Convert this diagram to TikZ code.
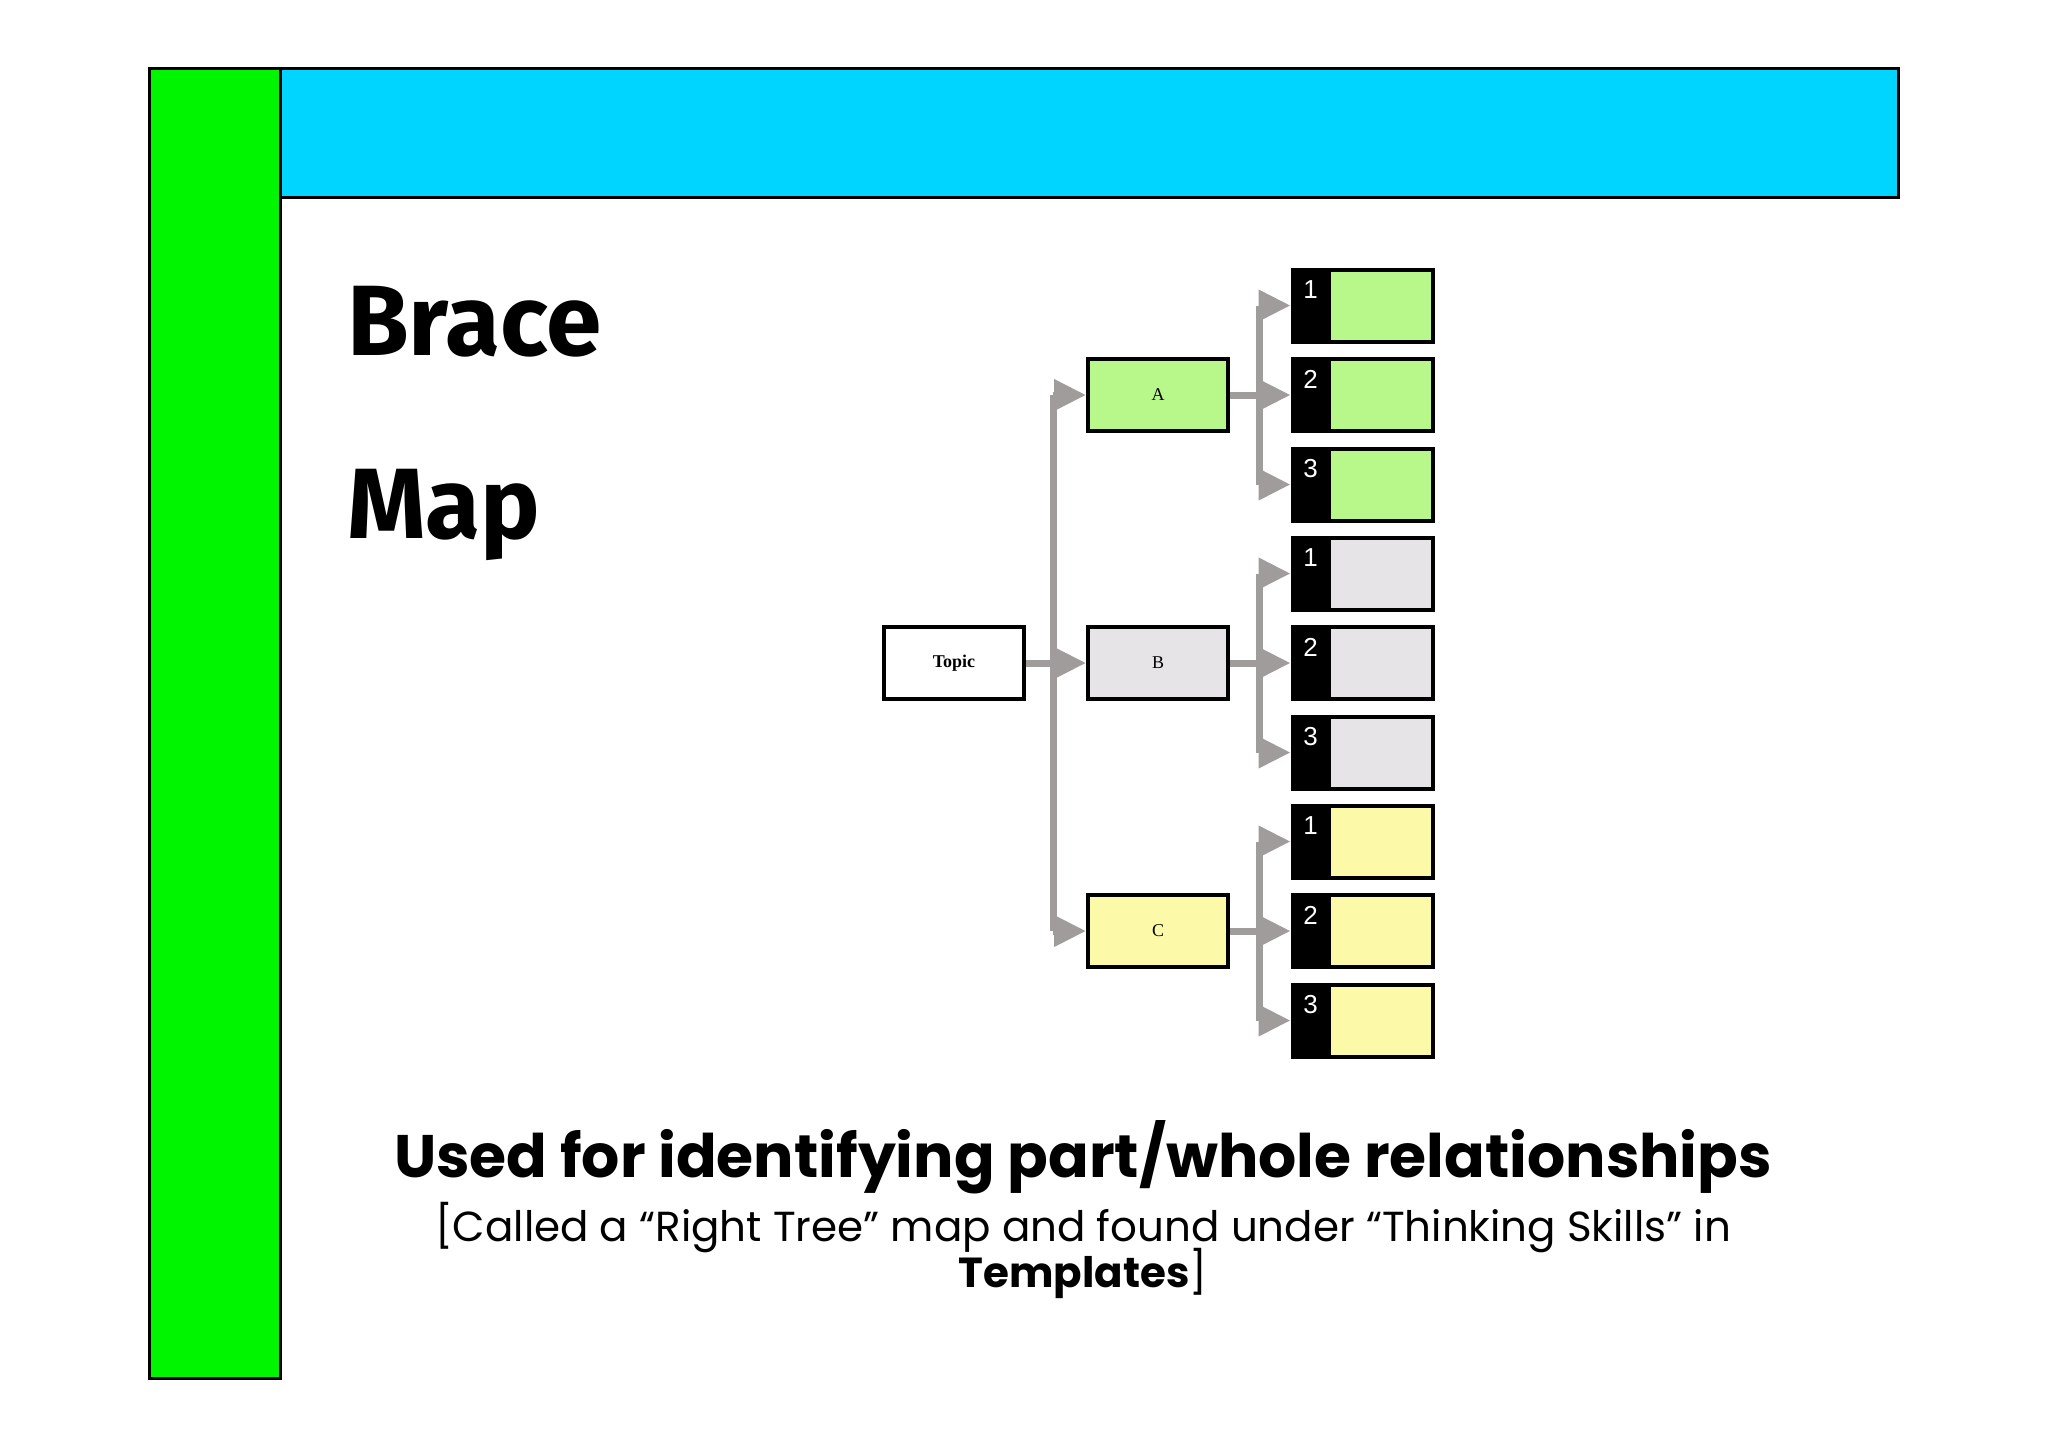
\documentclass[tikz,border=0pt]{standalone}
\usepackage{fontspec}
\setmainfont{Poppins}
\newfontfamily\titlefont{Fira Sans}
\newfontfamily\numfont{Liberation Sans}
\newfontfamily\boxfont{Liberation Serif}
\usetikzlibrary{arrows.meta}
\definecolor{cyanbar}{HTML}{00D5FF}
\definecolor{greenbar}{HTML}{00F500}
\definecolor{lgreen}{HTML}{B8F78A}
\definecolor{lgray}{HTML}{E6E4E6}
\definecolor{lyellow}{HTML}{FCFAA8}
\definecolor{arr}{HTML}{A09C9C}
\begin{document}
\begin{tikzpicture}[x=0.5pt,y=-0.5pt,
  bx/.style={draw=black,line width=2pt,minimum width=70pt,minimum height=36pt,inner sep=0pt,font=\boxfont\fontsize{9}{10}\selectfont},
  leaf/.style={draw=black,line width=2pt,minimum width=70pt,minimum height=36pt,inner sep=0pt},
  con/.style={draw=arr,line width=3.5pt,-{Triangle[length=16pt,width=15pt]}},
  tl/.style={draw=arr,line width=3.5pt}]
\useasboundingbox (0,0) rectangle (2048,1447);
\fill[white] (0,0) rectangle (2048,1447);
\draw[fill=greenbar,line width=1.5pt] (149,68) rectangle (280,1378);
\draw[fill=cyanbar,line width=1.5pt] (280,68) rectangle (1898,197);
\node[anchor=west,font=\titlefont\bfseries\fontsize{50}{60}\selectfont] at (340,322) {Brace};
\node[anchor=west,font=\titlefont\bfseries\fontsize{50}{60}\selectfont] at (340,515) {Map};
\node[bx,fill=white] (topic) at (954,663) {\textbf{Topic}};
\node[bx,fill=lgreen] (A) at (1158,395) {A};
\node[bx,fill=lgray] (B) at (1158,663) {B};
\node[bx,fill=lyellow] (C) at (1158,931) {C};
\foreach \g/\c/\y in {A/lgreen/395,B/lgray/663,C/lyellow/931}{
  \foreach \k in {1,2,3}{
    \pgfmathsetmacro{\yy}{\y+(\k-2)*89.5}
    \node[leaf,fill=\c] (\g\k) at (1362.5,\yy) {};
    \fill[black] ([shift={(1pt,-1pt)}]\g\k.north west) rectangle ([xshift=20pt,yshift=1pt]\g\k.south west);
    \node[text=white,font=\numfont\fontsize{13}{13}\selectfont,anchor=north] at ([xshift=10pt,yshift=-3pt]\g\k.north west) {\k};
  }
}
\coordinate (t1) at (1053,395);
\coordinate (t3) at (1053,931);
\draw[tl] (topic.east) -- (1053,663);
\draw[tl] (t1) -- (t3);
\draw[con] (t1) -- (A.west);
\draw[con] (1053,663) -- (B.west);
\draw[con] (t3) -- (C.west);
\foreach \g in {A,B,C}{
  \draw[tl] (\g.east) -- (1259,0|-\g.east);
  \draw[tl] (1259,0|-\g1.west) -- (1259,0|-\g3.west);
  \foreach \k in {1,2,3}{\draw[con] (1259,0|-\g\k.west) -- (\g\k.west);}
}
\node[font=\bfseries\fontsize{30}{36}\selectfont] (h) at (1083,1157) {Used for identifying part/whole relationships};
\node[font=\fontsize{21}{24}\selectfont] (s1) at (1083,1228) {[Called a ``Right Tree'' map and found under ``Thinking Skills'' in};
\node[font=\fontsize{21}{24}\selectfont] (s2) at (1083,1273) {\textbf{Templates}]};
\end{tikzpicture}
\end{document}
